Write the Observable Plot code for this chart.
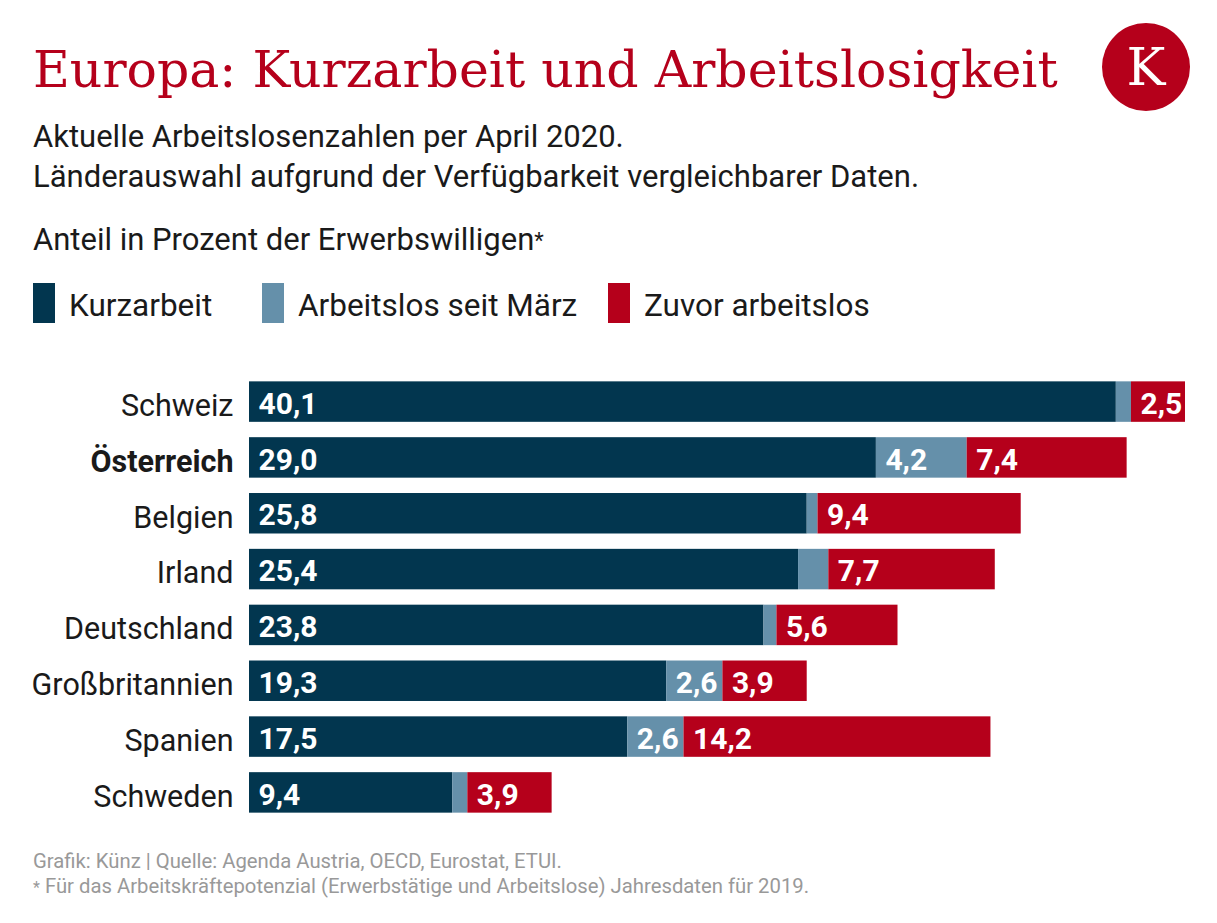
<!DOCTYPE html>
<html lang="de">
<head>
<meta charset="utf-8">
<script src="https://cdn.jsdelivr.net/npm/d3@7"></script>
<script src="https://cdn.jsdelivr.net/npm/@observablehq/plot@0.6"></script>
<style>
  html, body { margin: 0; padding: 0; background: #fff; }
  #page { position: relative; width: 1217px; height: 923px; overflow: hidden; font-family: Roboto, "Noto Sans", sans-serif; color: #1a1a1a; }
  .abs { position: absolute; white-space: nowrap; }
  #title { left: 33px; top: 45px; font-family: "DejaVu Serif", serif; font-size: 50.5px; color: #b5001b; line-height: 1; }
  #logo { left: 1102px; top: 23px; width: 88px; height: 88px; border-radius: 50%; background: #b5001b; color: #fff;
          font-family: "DejaVu Serif", serif; font-size: 52px; line-height: 88px; text-align: center; }
  #subtitle { left: 33px; top: 117px; font-size: 31px; line-height: 40px; }
  #unit { left: 33px; top: 221px; font-size: 31px; }
  #legend { left: 0; top: 283px; height: 40px; width: 1217px; }
  .sw { position: absolute; top: 0; width: 22px; height: 40px; }
  .lt { position: absolute; top: 4px; font-size: 31.5px; line-height: 38px; }
  #chart { left: 0; top: 350px; }
  #notes { left: 33px; top: 849px; font-size: 20.3px; line-height: 25px; color: #999; }
</style>
</head>
<body>
<div id="page">
  <div id="title" class="abs">Europa: Kurzarbeit und Arbeitslosigkeit</div>
  <div id="logo" class="abs">K</div>
  <div id="subtitle" class="abs">Aktuelle Arbeitslosenzahlen per April 2020.<br>Länderauswahl aufgrund der Verfügbarkeit vergleichbarer Daten.</div>
  <div id="unit" class="abs">Anteil in Prozent der Erwerbswilligen<span style="font-size:22px;vertical-align:2px">*</span></div>
  <div id="legend" class="abs"></div>
  <div id="chart" class="abs"></div>
  <div id="notes" class="abs">Grafik: Künz | Quelle: Agenda Austria, OECD, Eurostat, ETUI.<br><span style="font-size:16px">*</span> Für das Arbeitskräftepotenzial (Erwerbstätige und Arbeitslose) Jahresdaten für 2019.</div>
</div>
<script>
// Countries, top to bottom
const countries = ["Schweiz", "Österreich", "Belgien", "Irland", "Deutschland", "Großbritannien", "Spanien", "Schweden"];
// Shares in % of the labour force
const kurzarbeit          = [40.1, 29.0, 25.8, 25.4, 23.8, 19.3, 17.5, 9.4];
const arbeitslosSeitMaerz = [0.7, 4.2, 0.5, 1.4, 0.6, 2.6, 2.6, 0.7];
const zuvorArbeitslos     = [2.5, 7.4, 9.4, 7.7, 5.6, 3.9, 14.2, 3.9];

const seriesNames = ["Kurzarbeit", "Arbeitslos seit März", "Zuvor arbeitslos"];
const seriesColors = ["#02364f", "#6590aa", "#b5001b"];
const highlight = "Österreich";

// Long-format table for the stacked bars
const seriesValues = [kurzarbeit, arbeitslosSeitMaerz, zuvorArbeitslos];
const rows = [];
countries.forEach((c, i) => {
  let start = 0;
  seriesValues.forEach((vals, s) => {
    rows.push({country: c, series: seriesNames[s], value: vals[i], x1: start, x2: start + vals[i]});
    start += vals[i];
  });
});
const fmt = v => v.toFixed(1).replace(".", ",");

// Legend
const legend = document.getElementById("legend");
const legendX = [33, 262, 608];
seriesNames.forEach((name, i) => {
  const sw = document.createElement("div");
  sw.className = "sw"; sw.style.left = legendX[i] + "px"; sw.style.background = seriesColors[i];
  const t = document.createElement("div");
  t.className = "lt"; t.style.left = (legendX[i] + 36) + "px"; t.textContent = name;
  legend.append(sw, t);
});

const maxTotal = d3.max(countries, (c, i) => kurzarbeit[i] + arbeitslosSeitMaerz[i] + zuvorArbeitslos[i]);

const chart = Plot.plot({
  width: 1217,
  height: 478,
  marginLeft: 249,
  marginRight: 32,
  marginTop: 16,
  marginBottom: 0,
  x: {domain: [0, maxTotal], axis: null},
  y: {domain: countries, axis: null, padding: 0.275, round: false},
  color: {domain: seriesNames, range: seriesColors},
  style: {fontFamily: "Roboto, sans-serif"},
  marks: [
    Plot.barX(rows, {x1: "x1", x2: "x2", y: "country", fill: "series"}),
    Plot.text(rows.filter(d => d.value >= 2), {
      x: "x1", y: "country", text: d => fmt(d.value), textAnchor: "start", dx: 9,
      fill: "#fff", fontSize: 30, fontWeight: "bold", dy: 2
    }),
    Plot.text(countries.filter(c => c !== highlight), {
      x: () => 0, y: d => d, text: d => d, textAnchor: "end", dx: -16, dy: 4,
      fill: "#1a1a1a", fontSize: 30.5
    }),
    Plot.text([highlight], {
      x: () => 0, y: d => d, text: d => d, textAnchor: "end", dx: -16, dy: 4,
      fill: "#1a1a1a", fontSize: 30.5, fontWeight: "bold"
    })
  ]
});
document.getElementById("chart").append(chart);
</script>
</body>
</html>
